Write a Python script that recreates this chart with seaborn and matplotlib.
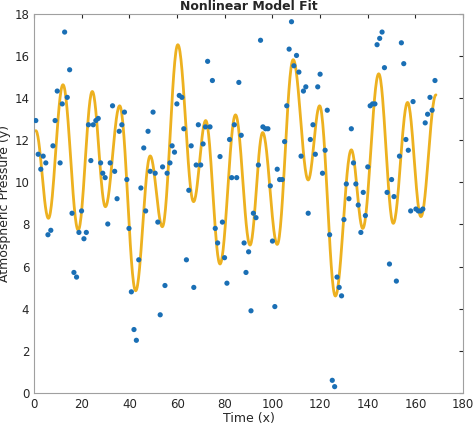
import numpy as np
import matplotlib
matplotlib.use("Agg")
import matplotlib.pyplot as plt
import seaborn as sns
import pandas as pd

x_data = [0.7,1.7,2.8,3.8,4.9,5.8,7.0,7.9,8.8,9.7,10.9,11.8,12.8,13.9,14.9,15.9,16.7,17.8,18.8,19.9,
          20.9,21.9,22.8,23.8,24.8,25.9,26.9,27.9,28.8,29.8,30.9,31.9,32.9,33.8,34.8,35.7,36.8,37.9,38.9,39.8,
          40.8,41.9,42.9,43.9,44.8,46.0,46.8,47.8,48.7,49.9,50.8,51.9,52.9,53.9,54.9,55.8,57.0,57.9,58.9,59.9,
          60.9,62.0,62.8,63.9,64.9,65.9,67.0,68.0,68.9,69.9,70.9,71.9,72.8,73.8,74.8,76.0,77.0,78.0,79.0,79.9,
          80.9,82.0,82.9,84.0,85.0,85.9,86.9,88.1,88.9,90.0,91.0,92.0,93.1,94.1,95.0,96.0,97.1,98.1,99.1,100.0,
          101.0,102.0,103.0,104.1,105.1,106.0,107.0,108.0,109.0,110.1,111.1,112.0,113.0,114.0,115.0,115.9,117.0,118.0,119.0,120.0,
          121.0,122.1,123.0,124.0,125.1,126.1,127.1,128.0,129.0,130.0,131.0,132.1,133.1,134.0,135.0,136.0,137.1,138.1,139.0,140.0,
          141.0,142.0,143.0,143.9,145.0,146.0,147.0,148.1,149.1,150.0,151.0,152.0,153.3,154.1,155.1,156.0,157.0,158.0,159.0,160.2,
          161.2,162.2,163.1,164.1,165.1,166.1,167.0,168.2]
y_data = [12.93,11.33,10.62,11.24,10.92,7.51,7.72,11.73,12.93,14.33,10.92,13.72,17.13,14.03,15.34,8.53,5.72,5.50,7.62,8.64,
          7.32,7.62,12.73,11.03,12.73,12.93,13.03,10.92,10.43,10.22,8.02,10.92,13.63,10.52,9.22,12.42,12.73,13.33,10.13,7.81,
          4.80,3.01,2.50,6.32,9.73,11.63,8.64,12.42,10.52,13.33,10.43,8.11,3.71,10.73,5.10,10.43,10.92,11.73,11.43,13.72,
          14.12,14.03,12.54,6.32,9.62,11.73,5.01,10.82,12.73,10.82,11.82,12.63,15.74,12.63,14.83,7.81,7.12,11.22,8.11,6.42,
          5.21,12.03,10.22,12.73,10.22,14.74,12.23,7.12,5.72,6.70,3.90,8.53,8.32,10.82,16.74,12.63,12.54,12.54,9.83,7.21,
          4.10,10.62,10.13,10.13,11.93,13.63,16.32,17.62,15.53,16.02,15.23,11.24,14.33,14.53,8.53,12.03,12.73,11.33,14.53,15.13,
          10.43,11.52,13.42,7.51,0.60,0.30,5.50,5.01,4.61,8.23,9.92,9.22,12.54,10.92,9.92,8.92,7.62,9.52,8.42,10.73,
          13.63,13.72,13.72,16.53,16.83,17.13,15.44,9.52,6.12,10.13,9.32,5.31,11.24,16.62,15.63,12.03,11.52,8.64,13.83,8.73,
          8.64,8.64,8.73,12.82,13.23,14.03,13.42,14.83]

# fitted curve key points (start, extrema, end)
fit_x = [0.7,6.0,12.1,18.5,24.4,29.9,35.9,42.6,48.7,53.8,60.3,66.9,72.0,78.0,84.5,90.6,95.9,102.0,108.7,115.0,
         119.8,126.4,133.1,137.9,144.6,150.7,156.7,162.3,168.6]
fit_y = [12.45,8.29,14.63,7.73,14.31,8.84,13.63,4.85,11.25,7.89,16.53,9.08,12.93,6.12,13.20,7.02,12.36,7.05,15.82,10.11,
         13.63,4.60,11.54,7.81,15.15,8.05,13.79,8.37,14.15]

# smooth rendering between extrema (half-cosine segments)
cx, cy = [], []
for i in range(len(fit_x) - 1):
    t = np.linspace(0, 1, 30, endpoint=False)
    s = (1 - np.cos(np.pi * t)) / 2
    cx.extend(fit_x[i] + (fit_x[i+1] - fit_x[i]) * t)
    cy.extend(fit_y[i] + (fit_y[i+1] - fit_y[i]) * s)
cx.append(fit_x[-1]); cy.append(fit_y[-1])

sns.set_style("white")
plt.rcParams['font.family'] = ['DejaVu Sans']
fig = plt.figure(figsize=(4.74, 4.29), dpi=100)
ax = fig.add_axes([0.072, 0.084, 0.905, 0.884])
sns.scatterplot(x=x_data, y=y_data, ax=ax, color='#1A6FB5', s=14, edgecolor='none', zorder=3)
sns.lineplot(x=cx, y=cy, ax=ax, color='#EDB120', linewidth=2, sort=False, zorder=2)
ax.set_xlim(0, 180)
ax.set_ylim(0, 18)
ax.set_xticks(range(0, 181, 20))
ax.set_yticks(range(0, 19, 2))
ax.tick_params(direction='in', length=3, labelsize=8.5, colors='#262626', top=True, right=True, labeltop=False, labelright=False)
for sp in ax.spines.values():
    sp.set_color('#a0a0a0'); sp.set_linewidth(0.8)
ax.set_xlabel('Time (x)', fontsize=9, color='#262626', labelpad=1)
ax.set_ylabel('Atmospheric Pressure (y)', fontsize=9, color='#262626', labelpad=2)
ax.set_title('Nonlinear Model Fit', fontsize=9, fontweight='bold', pad=3)
fig.savefig('out.png', dpi=100)
